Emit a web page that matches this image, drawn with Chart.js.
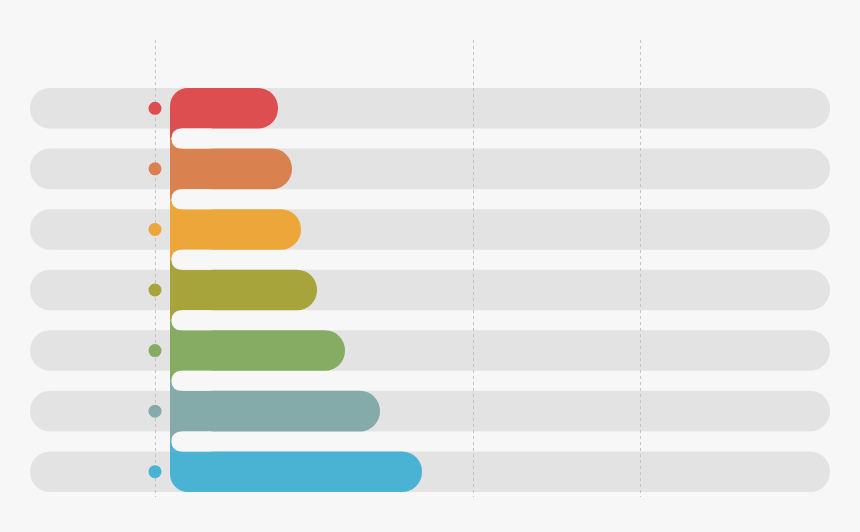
<!DOCTYPE html>
<html>
<head>
<meta charset="utf-8">
<script src="https://cdn.jsdelivr.net/npm/chart.js@4/dist/chart.umd.min.js"></script>
<style>
    html, body { margin: 0; padding: 0; background: #f7f7f7; }
    #wrap { width: 860px; height: 532px; }
</style>
</head>
<body>
<div id="wrap"><canvas id="bars"></canvas></div>
<script>
// rows top to bottom
var rows = ['1', '2', '3', '4', '5', '6', '7'];
var barStart = 140;
var barValues = [108, 122, 131, 147, 175, 210, 252];
var trackMax = 800;
var markerValue = 125;
var gridTicks = [125, 443, 610];

var barColors = ['#dc4e4f', '#d9814f', '#eca63a', '#a6a43a', '#86ab63', '#85aaaa', '#4ab2d2'];
var bgColor = '#f7f7f7';

// dashed guide lines, drawn just over the grey tracks
var guides = {
    id: 'guides',
    afterDatasetDraw: function(chart, args) {
        if (args.index !== 0) return;
        var ctx = chart.ctx, x = chart.scales.x, area = chart.chartArea;
        ctx.save();
        ctx.strokeStyle = '#c4c4c4';
        ctx.lineWidth = 1;
        ctx.setLineDash([3, 3]);
        gridTicks.forEach(function(t) {
            var px = Math.round(x.getPixelForValue(t)) + 0.5;
            ctx.beginPath();
            ctx.moveTo(px, area.top - 38);
            ctx.lineTo(px, area.bottom - 5);
            ctx.stroke();
        });
        ctx.restore();
    }
};

// the little joints that tie the coloured bars together on the left
var joints = {
    id: 'joints',
    afterDatasetDraw: function(chart, args) {
        if (args.index !== 1) return;
        var bars = args.meta.data, ctx = chart.ctx;
        ctx.save();
        for (var i = 0; i < bars.length - 1; i++) {
            var a = bars[i], b = bars[i + 1];
            var x = Math.min(a.base, b.base);
            var top = a.y + a.height / 2, bottom = b.y - b.height / 2;
            var mid = (top + bottom) / 2, r = (bottom - top) / 2;
            ctx.fillStyle = barColors[i];
            ctx.fillRect(x, top - 0.5, r + 2, mid - top + 0.5);
            ctx.fillStyle = barColors[i + 1];
            ctx.fillRect(x, mid, r + 2, bottom - mid + 0.5);
            ctx.fillStyle = bgColor;
            ctx.beginPath();
            ctx.roundRect(x + 1.5, top, 40, bottom - top, [r * 0.9, 0, 0, r * 0.9]);
            ctx.fill();
        }
        ctx.restore();
    }
};

var last = rows.length - 1;

new Chart(document.getElementById('bars'), {
    type: 'bar',
    data: {
        labels: rows,
        datasets: [{
            // grey tracks
            data: rows.map(function() { return [0, trackMax]; }),
            backgroundColor: '#e3e3e3',
            borderRadius: 20,
            borderSkipped: false,
            grouped: false,
            order: 3
        }, {
            data: barValues.map(function(v) { return [barStart, barStart + v]; }),
            backgroundColor: barColors,
            borderRadius: function(c) {
                var i = c.dataIndex;
                return { topLeft: i === 0 ? 18 : 0, bottomLeft: i === last ? 18 : 0, topRight: 20, bottomRight: 20 };
            },
            borderSkipped: false,
            grouped: false,
            order: 2
        }, {
            type: 'scatter',
            data: rows.map(function(r) { return { x: markerValue, y: r }; }),
            pointRadius: 6.5,
            pointBorderWidth: 0,
            pointBackgroundColor: barColors,
            order: 1
        }]
    },
    options: {
        indexAxis: 'y',
        responsive: true,
        maintainAspectRatio: false,
        animation: false,
        layout: { padding: { left: 30, right: 30, top: 78, bottom: 30 } },
        categoryPercentage: 0.67,
        barPercentage: 1,
        scales: {
            x: { type: 'linear', min: 0, max: trackMax, display: false },
            y: { type: 'category', display: false }
        },
        plugins: {
            legend: { display: false },
            tooltip: { enabled: false }
        }
    },
    plugins: [guides, joints]
});
</script>
</body>
</html>
